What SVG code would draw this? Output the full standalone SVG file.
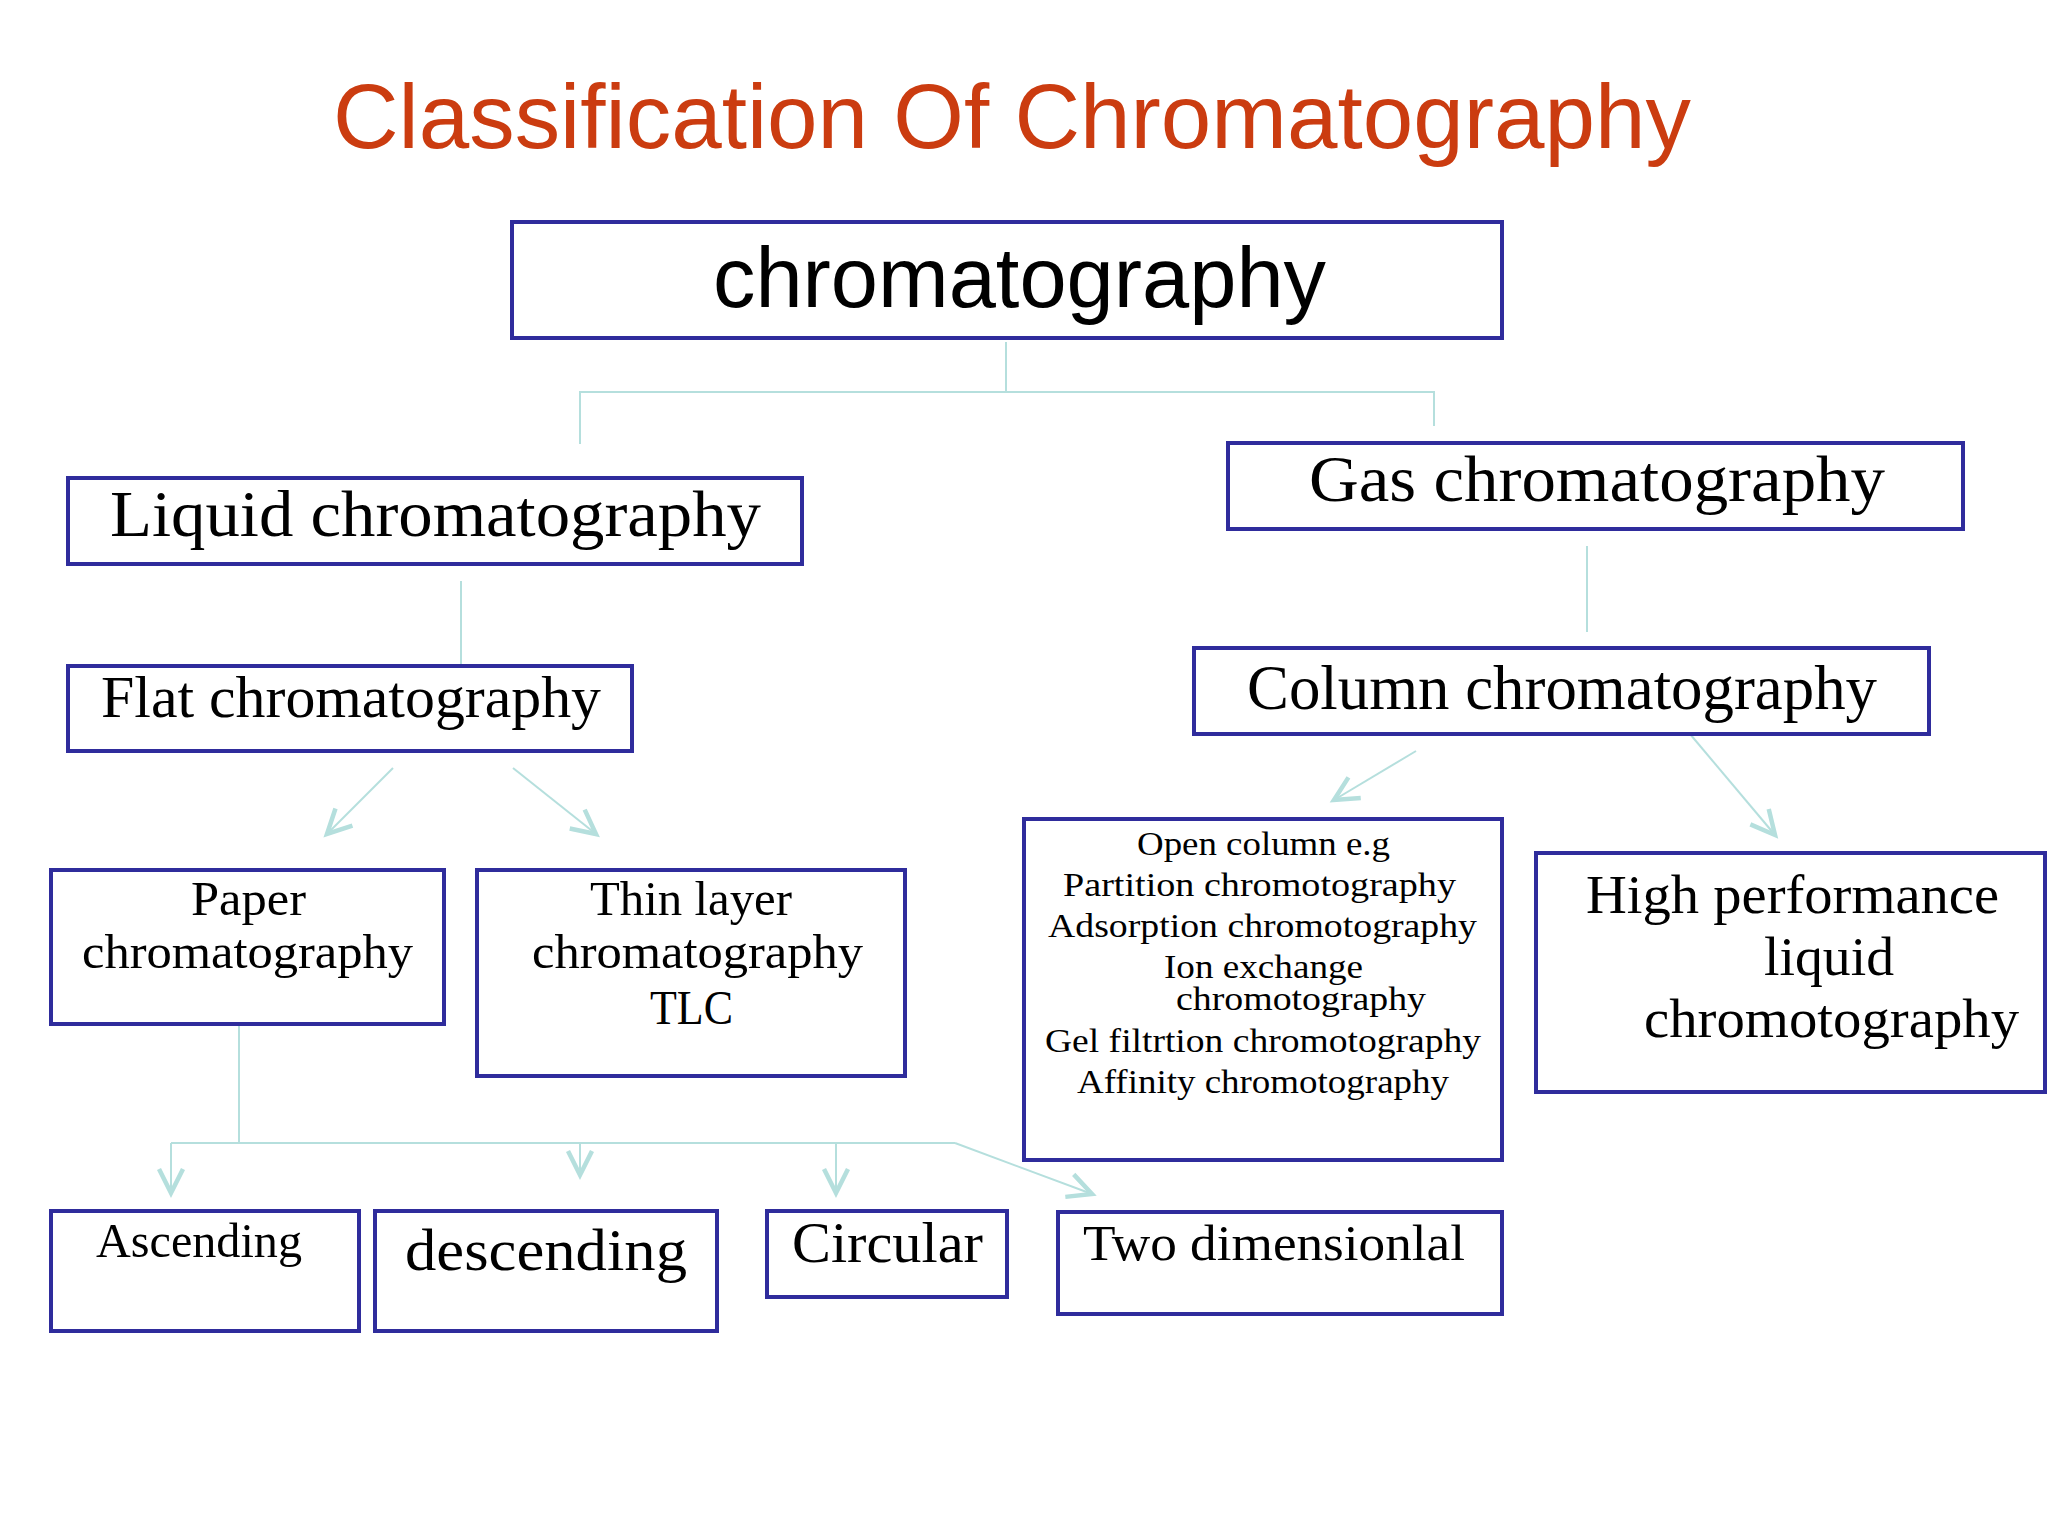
<svg xmlns="http://www.w3.org/2000/svg" width="2048" height="1536" viewBox="0 0 2048 1536">
<defs>
<style>
.box{fill:none;stroke:#2f2c9c;stroke-width:4}
.con{fill:none;stroke:#b5dfdd;stroke-width:2}
.arr{marker-end:url(#ah)}
.t{font-family:"Liberation Serif","Times New Roman",serif;fill:#000}
.title{font-family:"Liberation Sans",Arial,sans-serif;fill:#cb3c10;font-size:90px}
.sans{font-family:"Liberation Sans",Arial,sans-serif;fill:#000}
</style>
<marker id="ah" markerUnits="userSpaceOnUse" markerWidth="40" markerHeight="40" refX="0" refY="0" viewBox="-30 -20 40 40" orient="auto" overflow="visible">
<path d="M-24,-12 L0,0 L-24,12" fill="none" stroke="#b5dfdd" stroke-width="4.5" stroke-linejoin="miter"/>
</marker>
</defs>
<rect width="2048" height="1536" fill="#ffffff"/>
<text class="title" x="333" y="148" textLength="1358" lengthAdjust="spacingAndGlyphs">Classification Of Chromatography</text>

<g id="connectors">
<polyline class="con" points="1006,342 1006,392"/>
<polyline class="con" points="580,444 580,392 1434,392 1434,426"/>
<polyline class="con" points="461,581 461,665"/>
<polyline class="con" points="1587,546 1587,632"/>
<line class="con arr" x1="393" y1="768" x2="327" y2="834"/>
<line class="con arr" x1="513" y1="768" x2="596" y2="834"/>
<line class="con arr" x1="1416" y1="751" x2="1334" y2="800"/>
<line class="con arr" x1="1690" y1="734" x2="1775" y2="835"/>
<polyline class="con" points="239,1024 239,1143"/>
<polyline class="con" points="171,1143 955,1143"/>
<line class="con arr" x1="171" y1="1143" x2="171" y2="1193"/>
<line class="con arr" x1="580" y1="1143" x2="580" y2="1175"/>
<line class="con arr" x1="836" y1="1143" x2="836" y2="1193"/>
<line class="con arr" x1="955" y1="1143" x2="1092" y2="1194"/>
</g>

<g id="node-chromatography">
<rect class="box" x="512" y="222" width="990" height="116"/>
<text class="sans" x="713" y="307" font-size="85" textLength="613" lengthAdjust="spacingAndGlyphs">chromatography</text>
</g>
<g id="node-liquid">
<rect class="box" x="68" y="478" width="734" height="86"/>
<text class="t" x="110" y="536" font-size="66" textLength="651" lengthAdjust="spacingAndGlyphs">Liquid chromatography</text>
</g>
<g id="node-gas">
<rect class="box" x="1228" y="443" width="735" height="86"/>
<text class="t" x="1309" y="501" font-size="66" textLength="576" lengthAdjust="spacingAndGlyphs">Gas chromatography</text>
</g>
<g id="node-flat">
<rect class="box" x="68" y="666" width="564" height="85"/>
<text class="t" x="101" y="717" font-size="60" textLength="500" lengthAdjust="spacingAndGlyphs">Flat chromatography</text>
</g>
<g id="node-column">
<rect class="box" x="1194" y="648" width="735" height="86"/>
<text class="t" x="1247" y="709" font-size="64" textLength="630" lengthAdjust="spacingAndGlyphs">Column chromatography</text>
</g>
<g id="node-paper">
<rect class="box" x="51" y="870" width="393" height="154"/>
<text class="t" x="191" y="915" font-size="49" textLength="115" lengthAdjust="spacingAndGlyphs">Paper</text>
<text class="t" x="82" y="968" font-size="49" textLength="331" lengthAdjust="spacingAndGlyphs">chromatography</text>
</g>
<g id="node-thin">
<rect class="box" x="477" y="870" width="428" height="206"/>
<text class="t" x="590" y="915" font-size="49" textLength="202" lengthAdjust="spacingAndGlyphs">Thin layer</text>
<text class="t" x="532" y="968" font-size="49" textLength="331" lengthAdjust="spacingAndGlyphs">chromatography</text>
<text class="t" x="650" y="1024" font-size="49" textLength="83" lengthAdjust="spacingAndGlyphs">TLC</text>
</g>
<g id="node-open-column">
<rect class="box" x="1024" y="819" width="478" height="341"/>
<text class="t" x="1137" y="855" font-size="34" textLength="253" lengthAdjust="spacingAndGlyphs">Open column e.g</text>
<text class="t" x="1063" y="896" font-size="34" textLength="393" lengthAdjust="spacingAndGlyphs">Partition chromotography</text>
<text class="t" x="1048" y="937" font-size="34" textLength="429" lengthAdjust="spacingAndGlyphs">Adsorption chromotography</text>
<text class="t" x="1164" y="978" font-size="34" textLength="199" lengthAdjust="spacingAndGlyphs">Ion exchange</text>
<text class="t" x="1176" y="1010" font-size="34" textLength="250" lengthAdjust="spacingAndGlyphs">chromotography</text>
<text class="t" x="1045" y="1052" font-size="34" textLength="436" lengthAdjust="spacingAndGlyphs">Gel filtrtion chromotography</text>
<text class="t" x="1077" y="1093" font-size="34" textLength="372" lengthAdjust="spacingAndGlyphs">Affinity chromotography</text>
</g>
<g id="node-hplc">
<rect class="box" x="1536" y="853" width="509" height="239"/>
<text class="t" x="1586" y="913" font-size="55" textLength="413" lengthAdjust="spacingAndGlyphs">High performance</text>
<text class="t" x="1764" y="975" font-size="55" textLength="130" lengthAdjust="spacingAndGlyphs">liquid</text>
<text class="t" x="1644" y="1037" font-size="55" textLength="375" lengthAdjust="spacingAndGlyphs">chromotography</text>
</g>
<g id="node-ascending">
<rect class="box" x="51" y="1211" width="308" height="120"/>
<text class="t" x="96" y="1257" font-size="49" textLength="206" lengthAdjust="spacingAndGlyphs">Ascending</text>
</g>
<g id="node-descending">
<rect class="box" x="375" y="1211" width="342" height="120"/>
<text class="t" x="405" y="1270" font-size="59" textLength="282" lengthAdjust="spacingAndGlyphs">descending</text>
</g>
<g id="node-circular">
<rect class="box" x="767" y="1211" width="240" height="86"/>
<text class="t" x="792" y="1262" font-size="56" textLength="191" lengthAdjust="spacingAndGlyphs">Circular</text>
</g>
<g id="node-two-dimensional">
<rect class="box" x="1058" y="1212" width="444" height="102"/>
<text class="t" x="1083" y="1260" font-size="50" textLength="382" lengthAdjust="spacingAndGlyphs">Two dimensionlal</text>
</g>
</svg>
